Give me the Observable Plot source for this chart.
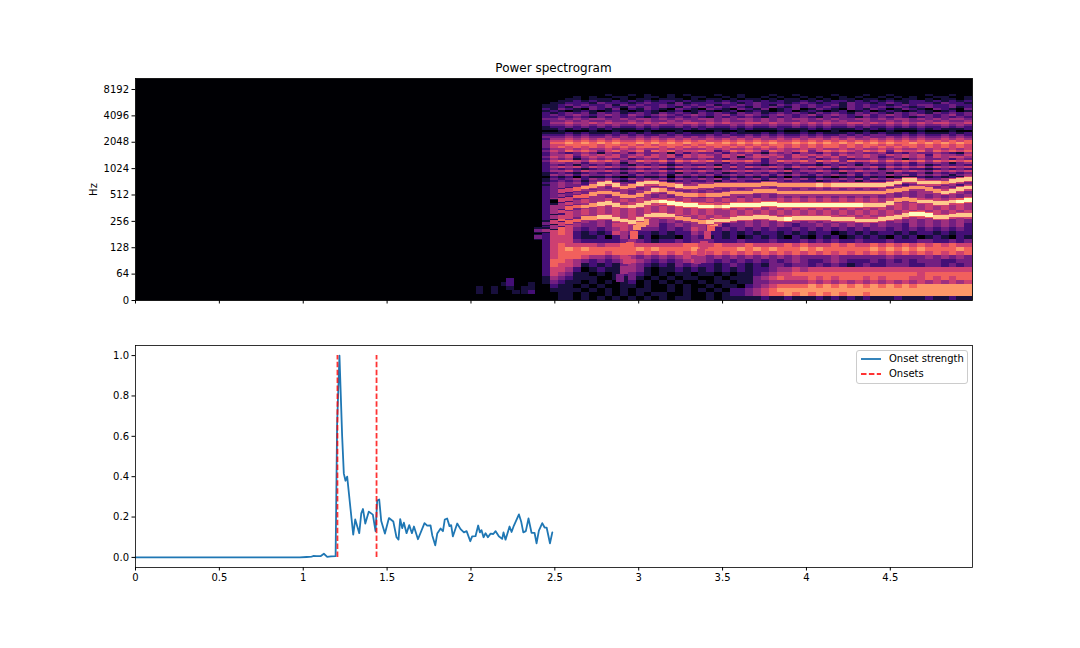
<!DOCTYPE html>
<html><head><meta charset="utf-8">
<script src="https://cdn.jsdelivr.net/npm/d3@7"></script>
<script src="https://cdn.jsdelivr.net/npm/@observablehq/plot@0.6"></script>
<style>
html,body{margin:0;padding:0;background:#fff;font-family:"DejaVu Sans",sans-serif;color:#000}
#wrap{position:relative;width:1080px;height:648px;overflow:hidden}
#wrap svg{display:block;background:transparent}
#title{position:absolute;left:135px;width:837px;top:61px;text-align:center;font-size:12px;line-height:14px}
#legend{position:absolute;left:856px;top:350px;width:110px;height:32px;border:1px solid #ccc;border-radius:3px;background:rgba(255,255,255,.8);font-size:10px}
#legend div{position:absolute;left:32px;line-height:12px;white-space:nowrap}
#legend svg{position:absolute;left:4px;width:20px;height:4px}
</style></head><body>
<div id="wrap"><div id="title">Power spectrogram</div><div id="top"></div><div id="bottom"></div>
<div id="legend">
<svg style="top:6px"><line x1="0" x2="20" y1="2" y2="2" stroke="#1f77b4" stroke-width="1.8"/></svg><div style="top:2px">Onset strength</div>
<svg style="top:21px"><line x1="0" x2="20" y1="2" y2="2" stroke="red" stroke-opacity=".8" stroke-width="1.8" stroke-dasharray="5.5,2.4"/></svg><div style="top:17px">Onsets</div>
</div></div>
<script>
const xTicks = [0, 0.5, 1, 1.5, 2, 2.5, 3, 3.5, 4, 4.5];
const hzTicks = [0, 64, 128, 256, 512, 1024, 2048, 4096, 8192];
const yTicks = [0, 0.2, 0.4, 0.6, 0.8, 1.0];
const duration = 4.99;
const nyquistPos = 8.417;
const specStart = 2.38;

// Spectrogram levels 0-9, one string per band, highest band first.
// Octave positions: 0 Hz = 0, 64 Hz = 1, 128 Hz = 2, ... 8192 Hz = 8.
const upperTop = 7.81, upperBottom = 4.32;
const upperRows = [
"00000000010010100101000100100010010000100010010000100100",
"00000101001100110100110010100101001010010100101010011001",
"00001101110101101110101101011010110101011011010110101101",
"00011212112121212212112121221212112121221212121122121212",
"00112221322212322131222232123222123212213221232122213221",
"01123232231323223232323122323213232322313232212323322322",
"01121323232132323213232323213232132323213232323212322312",
"02132103213021321032103210321301230132103213201321032103",
"01210121012101210120121012012101201210120120121012101201",
"02123231323123213232132321323123232132321323213232132323",
"02323432343243234323432342343234323423432342343234323423",
"02232321323232123232321323232132323213232132323212323232",
"03343434433434434343344343443434344343433443434434343443",
"02334343343343433434334343343434334334343343343433434334",
"02445445454454545445545454455454454545445545454545455445",
"02334343434334343343434334343343343434334343343434334343",
"01223232323223232232323223232232232323223232232323223232",
"01121212121112121112121112121112111212111212121112121112",
"00010001001000100010000100100001001000100010010001000100",
"01112121112121211212111212111212112121112121211212111212",
"02223232232323223232223232232323223232232323322323223232",
"03334343343434343343434334343434334343434343343434334343",
"02445454545445454545445454545445454554545445454545445454",
"03556565656556565656565565656565565656565656565656565656",
"03667676767667676767667676767676676767676767676676767676",
"03556666566565656665656665656566565656656566565665656565",
"03565656565656665656565656565656565656656565656565656565",
"02445454454545445454445454454545445454454544545445454545",
"03546565356456365645565246565365456356565465636556465656",
"02432343143424334142433424343143424324343433423243343214",
"02445354545345354525454354535454354545354454354545254435",
"03545245455354554535455354145545355354535454234545354554",
"02434134343423434243343324334243343423432334343134334243",
"03566546565346556465656465565246556465636556465656465656",
"02443424434143434243443324343243434424343234343424343134",
"02323132323213232123223132322123232212323132232323123232",
"02454535454345545354454535354454354545354445354545354545",
"02323212322123232123223132322323123232122323132322123232",
"02445354454345445354454345454454534454354544345454354545",
"01232123223132323213232312323232132323213232313223132323",
"01434243343324334143434234343424343243434243343424343134",
"00212021121012112021212012121212021121012121201112121212",
"01323424343243434243343424334243434243343424343234334343",
"01232313322123232123223132322123232212323132232323123232",
"02343424343324334143434243434234343324343243433343424343",
"01343324434243343424343234343343424343243434343234343424"
];
const lowerRows = [
"02343433434343434343443434343434434343434343434343434343",
"02343434343434343433434334343433434334343434343434434343",
"02343434434343434343343434343434343434343434343434343434",
"02445454454545454545445454545445454545454545454545454545",
"02445454545454454545454545454545454545445454545454545454",
"02445454545454545454545454545454545454545454545454545454",
"02455454545454545454545445454545454545454545454545454545",
"02455454545454545445454545454544545454545454454545454545",
"02565443434543443434343434343434343434344343434343434343",
"02565433435543442343443423343434323343434343433243434342",
"02565323234543332323543232323232232323232323323232323232",
"02565212125432212122432212121221212122012121221212212122",
"02555211202421201102321212012121021021201212102120121021",
"02555322222343212232333222322232223232322322232223322323",
"02565555455655555556655655565555656555656556565656565655",
"02567676666667676666766666767676667676666667676767666676",
"02566666656665656565665656565656565656565656565656565656",
"02566654434543434345443434343434343333433333343333434343",
"02665432323454323234543232323232343223432223232323332233",
"02655412121343212132322123212133233232321232233322332323",
"02554201211343101121212121212234454555555555555555555555",
"02543110101232101011011010112345566666666666666665666666",
"01432111001131010101100101113456555656566656566655656566",
"01321101010120101010010110113344444545454545454545454545",
"00211010100110100101001011023456666767676767676767777777",
"00111101010101100101010102234567777777777777777777777777",
"00011010010101011001001012234566767676767767777777777777",
"00011010101010101011001011111211211121212121112111211211"
];

// Bright harmonic tracks, one octave position per frame (null where absent).
const trackA = [null,null,null,4.13,4.17,4.21,4.25,4.32,4.40,4.44,4.36,4.28,4.32,4.40,4.44,4.44,4.40,4.36,4.32,4.28,4.28,4.32,4.32,4.36,4.36,4.36,4.36,4.36,4.36,4.40,4.40,4.36,4.36,4.36,4.36,4.36,4.36,4.36,4.36,4.36,4.36,4.36,4.36,4.36,4.36,4.40,4.47,4.55,4.55,4.47,4.44,4.44,4.47,4.51,4.55,4.59];
const trackB = [null,null,3.72,3.79,3.83,3.91,3.94,4.02,4.06,4.09,4.02,3.94,3.91,3.98,4.09,4.17,4.17,4.09,4.02,3.98,3.98,3.98,3.98,3.98,4.02,4.06,4.06,4.09,4.13,4.13,4.13,4.09,4.06,4.06,4.06,4.06,4.06,4.06,4.06,4.06,4.06,4.06,4.06,4.06,4.09,4.13,4.17,4.21,4.25,4.25,4.21,4.13,4.09,4.13,4.21,4.25];
const trackC = [2.65,2.91,3.15,3.34,3.49,3.53,3.56,3.60,3.64,3.68,3.60,3.53,3.53,3.60,3.68,3.72,3.72,3.68,3.64,3.60,3.60,3.56,3.56,3.56,3.56,3.60,3.60,3.60,3.60,3.64,3.64,3.60,3.60,3.60,3.60,3.60,3.60,3.60,3.60,3.60,3.60,3.60,3.60,3.60,3.60,3.68,3.79,3.83,3.79,3.75,3.72,3.68,3.68,3.72,3.75,3.79];
const trackD = [2.39,2.65,2.77,2.88,2.96,3.03,3.11,3.11,3.15,3.15,3.07,3.00,2.96,3.07,3.19,3.22,3.22,3.19,3.11,3.07,3.03,2.96,2.96,3.00,3.03,3.07,3.11,3.11,3.15,3.15,3.11,3.07,3.07,3.11,3.11,3.11,3.11,3.11,3.07,3.07,3.07,3.03,3.03,3.03,3.07,3.11,3.15,3.22,3.26,3.26,3.22,3.15,3.15,3.19,3.22,3.22];
const levelA = "00055677888778887787777777777777777787888888888888887888";
const levelB = "00055667777777787777767777777777777777777777777777778888";
const levelC = "33456677888788889999999899999999999999999988887778888899";
const levelD = "34456677888888888877778888888888988888888888888899988888";

// Rising glides under the harmonics: time, octave position, level.
const glideTimes  = [2.87, 2.89, 2.91, 2.93, 2.95, 2.97, 3.33, 3.35, 3.37, 3.39, 3.41, 3.43, 3.00, 3.02];
const glidePos    = [0.85, 1.15, 1.50, 2.05, 2.45, 2.80, 1.50, 1.80, 2.10, 2.45, 2.75, 2.95, 2.90, 3.00];
const glideLevels = [3, 4, 5, 6, 6, 7, 4, 5, 5, 5, 6, 7, 7, 7];

// Faint cells before the sound starts.
const noiseTimes  = [2.03, 2.12, 2.18, 2.21, 2.21, 2.21, 2.03, 2.12, 2.25, 2.30, 2.34, 2.30, 2.34, 2.34];
const noisePos    = [0.45, 0.45, 0.60, 0.75, 0.60, 0.45, 0.30, 0.30, 0.30, 0.45, 0.60, 0.30, 0.30, 0.45];
const noiseLevels = [1, 1, 1, 2, 2, 1, 1, 1, 1, 1, 1, 1, 2, 1];

const onsetTimes = [0, 0.98, 1.02, 1.05, 1.06, 1.08, 1.103, 1.123, 1.143, 1.165, 1.193, 1.202, 1.216, 1.222, 1.232, 1.242, 1.252, 1.262, 1.282, 1.298, 1.31, 1.334, 1.346, 1.356, 1.37, 1.391, 1.415, 1.431, 1.441, 1.453, 1.465, 1.487, 1.511, 1.537, 1.556, 1.568, 1.578, 1.59, 1.6, 1.616, 1.632, 1.648, 1.66, 1.684, 1.723, 1.739, 1.759, 1.769, 1.787, 1.799, 1.819, 1.833, 1.844, 1.858, 1.872, 1.882, 1.892, 1.918, 1.938, 1.958, 1.974, 1.996, 2.007, 2.027, 2.043, 2.053, 2.063, 2.075, 2.087, 2.101, 2.117, 2.133, 2.147, 2.166, 2.186, 2.194, 2.206, 2.23, 2.242, 2.256, 2.286, 2.3, 2.312, 2.327, 2.343, 2.361, 2.379, 2.391, 2.405, 2.425, 2.439, 2.451, 2.471, 2.485];
const onsetValues = [0, 0, 0.002, 0.004, 0.007, 0.006, 0.006, 0.018, 0.003, 0.005, 0.006, 0.66, 1, 0.85, 0.6, 0.415, 0.38, 0.4, 0.24, 0.113, 0.188, 0.12, 0.218, 0.24, 0.168, 0.227, 0.212, 0.13, 0.282, 0.287, 0.18, 0.118, 0.195, 0.178, 0.1, 0.088, 0.19, 0.145, 0.172, 0.12, 0.16, 0.12, 0.153, 0.09, 0.17, 0.157, 0.158, 0.11, 0.06, 0.118, 0.143, 0.13, 0.188, 0.193, 0.155, 0.16, 0.104, 0.168, 0.14, 0.124, 0.13, 0.08, 0.104, 0.105, 0.158, 0.124, 0.135, 0.1, 0.12, 0.1, 0.118, 0.116, 0.13, 0.105, 0.092, 0.124, 0.088, 0.153, 0.126, 0.158, 0.213, 0.175, 0.124, 0.13, 0.193, 0.122, 0.122, 0.07, 0.133, 0.17, 0.148, 0.148, 0.07, 0.124];
const onsetMarks = [1.204, 1.437];

const colCount = 56;
const colWidth = (duration - specStart) / colCount;
const cells = [];
function addRows(rows, hi, lo) {
  const step = (hi - lo) / rows.length;
  rows.forEach((s, r) => {
    for (let c = 0; c < s.length && c < colCount; c++) {
      cells.push({t1: specStart + c * colWidth, t2: specStart + (c + 1) * colWidth, o1: hi - (r + 1) * step, o2: hi - r * step, level: +s[c]});
    }
  });
}
addRows(upperRows, upperTop, upperBottom);
addRows(lowerRows, upperBottom, 0);
const addPoint = (t, p, half, level, w) => cells.push({t1: t, t2: t + w, o1: p - half, o2: p + half, level});
noiseTimes.forEach((t, i) => addPoint(t, noisePos[i], 0.075, noiseLevels[i], colWidth));
glideTimes.forEach((t, i) => addPoint(t, glidePos[i], 0.15, glideLevels[i], colWidth));
for (const [track, levels] of [[trackA, levelA], [trackB, levelB], [trackC, levelC], [trackD, levelD]]) {
  track.forEach((p, c) => {
    if (p == null) return;
    const t = specStart + c * colWidth, level = +levels[c];
    addPoint(t, p, 0.115, Math.max(level - 3, 1), colWidth);
    addPoint(t, p, 0.06, level, colWidth);
  });
}

const hzPos = hz => hz === 0 ? 0 : Math.log2(hz / 64) + 1;
const style = {fontFamily: "DejaVu Sans", fontSize: "10px", color: "#000", background: "transparent", overflow: "visible"};
const base = {width: 1080, height: 324, marginLeft: 135, marginRight: 108, style};

const specPlot = Plot.plot({
  ...base, marginTop: 78, marginBottom: 24,
  x: {domain: [0, duration]},
  y: {domain: [0, nyquistPos]},
  color: {type: "linear", scheme: "magma", domain: [0, 9]},
  marks: [
    Plot.frame({fill: "#000004"}),
    Plot.rect(cells, {x1: "t1", x2: "t2", y1: "o1", y2: "o2", fill: "level", shapeRendering: "crispEdges"}),
    Plot.frame({stroke: "#000", strokeWidth: 0.8}),
    Plot.axisX({ticks: xTicks, tickFormat: () => "", tickSize: 3.5, label: null}),
    Plot.axisY({ticks: hzTicks.map(hzPos), tickFormat: p => String(hzTicks[hzTicks.map(hzPos).indexOf(p)]), tickSize: 3.5, tickPadding: 3, label: "Hz", labelAnchor: "center", labelOffset: 46, labelArrow: "none"})
  ]
});
const onsets = onsetTimes.map((t, i) => ({t, v: onsetValues[i]}));
const onsetPlot = Plot.plot({
  ...base, marginTop: 21, marginBottom: 81,
  x: {domain: [0, duration]},
  y: {domain: [-0.05, 1.05]},
  marks: [
    Plot.line(onsets, {x: "t", y: "v", stroke: "#1f77b4", strokeWidth: 1.8, curve: "linear"}),
    Plot.ruleX(onsetMarks, {y1: 0, y2: 1, stroke: "red", strokeOpacity: 0.8, strokeWidth: 1.8, strokeDasharray: "5.5,2.4"}),
    Plot.frame({stroke: "#000", strokeWidth: 0.8}),
    Plot.axisX({ticks: xTicks, tickFormat: d => String(d), tickSize: 3.5, tickPadding: 3, label: null}),
    Plot.axisY({ticks: yTicks, tickFormat: d3.format(".1f"), tickSize: 3.5, tickPadding: 3, label: null})
  ]
});
document.getElementById("top").append(specPlot);
document.getElementById("bottom").append(onsetPlot);
</script>
</body></html>
